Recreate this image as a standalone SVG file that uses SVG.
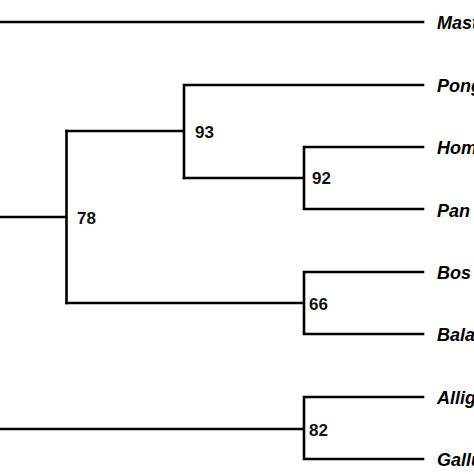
<svg xmlns="http://www.w3.org/2000/svg" width="474" height="474" viewBox="0 0 474 474">
<style>
.e{fill:none;stroke:#000;stroke-width:2.6;stroke-linecap:square;stroke-linejoin:miter}
.t{font-family:"Liberation Sans",Arial,sans-serif;font-size:18px;font-weight:bold;font-style:italic;fill:#000}
.b{font-family:"Liberation Sans",Arial,sans-serif;font-size:17px;font-weight:bold;fill:#111}
</style>
<rect width="474" height="474" fill="#fff"/>
<g id="connectors">
<path class="e" d="M0,22H423"/>
<path class="e" d="M0,217H66.5M66.5,131V303"/>
<path class="e" d="M66.5,131H184M184,85V178M184,85H423"/>
<path class="e" d="M184,178H304M304,147V209M304,147H423M304,209H423"/>
<path class="e" d="M66.5,303H304M304,272V334M304,272H423M304,334H423"/>
<path class="e" d="M0,429H304M304,397V459M304,397H423M304,459H423"/>
</g>
<g id="leaf-mast"><text class="t" x="437" y="28.5">Mast</text></g>
<g id="leaf-pong"><text class="t" x="437" y="91.5">Pong</text></g>
<g id="leaf-hom"><text class="t" x="437" y="153.5">Hom</text></g>
<g id="leaf-pan"><text class="t" x="437" y="216.5">Pan</text></g>
<g id="leaf-bos"><text class="t" x="437" y="278.5">Bos</text></g>
<g id="leaf-bala"><text class="t" x="437" y="340.5">Bala</text></g>
<g id="leaf-allig"><text class="t" x="437" y="403.5">Allig</text></g>
<g id="leaf-gallu"><text class="t" x="437" y="465.5">Gallu</text></g>
<g id="node-78"><text class="b" x="77" y="223.5">78</text></g>
<g id="node-93"><text class="b" x="195" y="137.5">93</text></g>
<g id="node-92"><text class="b" x="312" y="183.5">92</text></g>
<g id="node-66"><text class="b" x="309" y="309.5">66</text></g>
<g id="node-82"><text class="b" x="309" y="435.5">82</text></g>
</svg>
